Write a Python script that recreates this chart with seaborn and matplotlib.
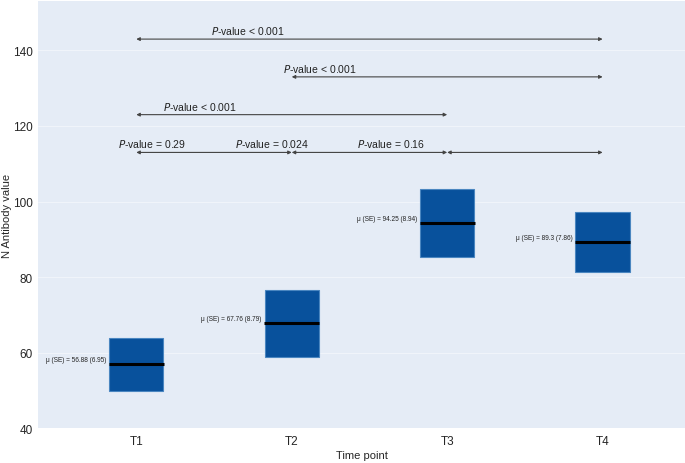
import numpy as np
import pandas as pd
import matplotlib.pyplot as plt
import seaborn as sns

# data
time_points = ['T1', 'T2', 'T3', 'T4']
means = [56.88, 67.76, 94.25, 89.3]
ses = [6.95, 8.79, 8.94, 7.86]

# pairwise comparisons (index of left point, index of right point, label, bracket level)
pair_left = [0, 1, 0, 0, 1, 2]
pair_right = [3, 3, 2, 1, 2, 3]
pair_labels = ['< 0.001', '< 0.001', '< 0.001', '= 0.29', '= 0.024', '= 0.16']
pair_levels = [143, 133, 123, 113, 113, 113]

df = pd.DataFrame({'time': time_points, 'mean': means, 'se': ses})
df['low'] = df['mean'] - df['se']
df['x'] = np.arange(len(df))

sns.set_theme(style='darkgrid', rc={'axes.facecolor': '#e5ecf6', 'grid.color': '#f3f6fb',
                                    'grid.linewidth': 0.6})
plt.rcParams['font.family'] = ['Liberation Sans', 'DejaVu Sans']

fig, ax = plt.subplots(figsize=(6.85, 4.64), dpi=100)

# mean +/- SE boxes
ax.bar(df['x'], 2 * df['se'], bottom=df['low'], width=0.35, color='#08519c',
       edgecolor='#4a86c0', linewidth=0.8, zorder=2)
# mean lines
ax.hlines(df['mean'], df['x'] - 0.177, df['x'] + 0.177, color='black', lw=2.2, zorder=3)

for _, r in df.iterrows():
    ax.text(r['x'] - 0.195, r['mean'] + 0.3, f"\u03bc (SE) = {r['mean']:g} ({r['se']:.2f})",
            ha='right', va='bottom', fontsize=4.7, color='#222222')

# brackets with p-values
text_x = [0.72, 1.18, 0.41, 0.10, 0.87, 1.64]
for a, b, lab, lev, tx in zip(pair_left, pair_right, pair_labels, pair_levels, text_x):
    ax.annotate('', xy=(b, lev), xytext=(a, lev),
                arrowprops=dict(arrowstyle='<|-|>', color='#444444', lw=0.8,
                                mutation_scale=5, shrinkA=0, shrinkB=0))
    ax.text(tx, lev + 0.8, '$P$-value ' + lab, ha='center', va='bottom',
            fontsize=7.5, color='#222222')

ax.set_xticks(df['x'])
ax.set_xticklabels(time_points)
ax.grid(axis='x', visible=False)
ax.set_xlim(-0.63, 3.53)
ax.set_ylim(40, 153)
ax.set_yticks([40, 60, 80, 100, 120, 140])
ax.tick_params(labelsize=8.5, length=0)
ax.tick_params(axis='y', pad=4)
ax.tick_params(axis='x', pad=5)
ax.set_xlabel('Time point', fontsize=8, labelpad=2)
ax.set_ylabel('N Antibody value', fontsize=8, labelpad=1)
for s in ax.spines.values():
    s.set_visible(False)

plt.subplots_adjust(left=0.056, right=1.0, top=0.995, bottom=0.075)
plt.savefig('out.png', dpi=100)
